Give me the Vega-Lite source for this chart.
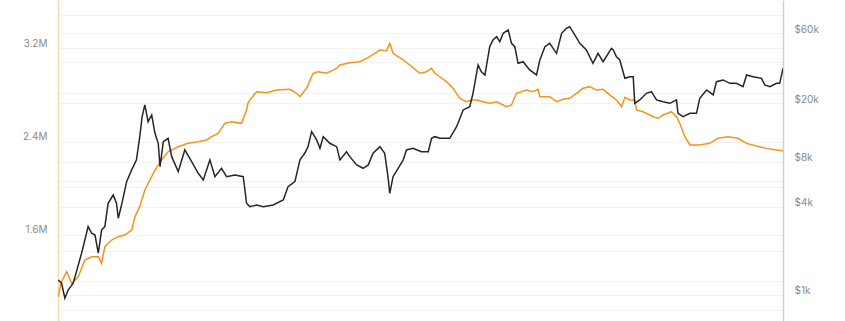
{
  "$schema": "https://vega.github.io/schema/vega-lite/v6.json",
  "width": 725,
  "height": 321,
  "autosize": "none",
  "padding": {"left": 58, "top": 0, "right": 62, "bottom": 0},
  "background": "white",
  "config": {"view": {"stroke": null}},
  "datasets": {
    "holders": [
      {"date": "2017-03-01", "value": 1025000},
      {"date": "2017-03-13", "value": 1154000},
      {"date": "2017-03-30", "value": 1239000},
      {"date": "2017-04-16", "value": 1140000},
      {"date": "2017-05-08", "value": 1197000},
      {"date": "2017-05-30", "value": 1340000},
      {"date": "2017-06-22", "value": 1368000},
      {"date": "2017-07-14", "value": 1368000},
      {"date": "2017-07-25", "value": 1311000},
      {"date": "2017-08-05", "value": 1454000},
      {"date": "2017-08-28", "value": 1511000},
      {"date": "2017-09-19", "value": 1540000},
      {"date": "2017-10-11", "value": 1554000},
      {"date": "2017-11-03", "value": 1597000},
      {"date": "2017-11-14", "value": 1711000},
      {"date": "2017-11-30", "value": 1797000},
      {"date": "2017-12-17", "value": 1940000},
      {"date": "2018-01-03", "value": 2026000},
      {"date": "2018-01-20", "value": 2111000},
      {"date": "2018-02-11", "value": 2197000},
      {"date": "2018-03-05", "value": 2268000},
      {"date": "2018-04-08", "value": 2311000},
      {"date": "2018-05-11", "value": 2340000},
      {"date": "2018-06-14", "value": 2354000},
      {"date": "2018-07-12", "value": 2369000},
      {"date": "2018-07-29", "value": 2397000},
      {"date": "2018-08-20", "value": 2426000},
      {"date": "2018-09-11", "value": 2512000},
      {"date": "2018-10-04", "value": 2526000},
      {"date": "2018-11-06", "value": 2512000},
      {"date": "2018-11-23", "value": 2626000},
      {"date": "2018-11-28", "value": 2688000},
      {"date": "2018-12-04", "value": 2712000},
      {"date": "2018-12-27", "value": 2783000},
      {"date": "2019-01-29", "value": 2774000},
      {"date": "2019-03-04", "value": 2797000},
      {"date": "2019-04-17", "value": 2803000},
      {"date": "2019-05-10", "value": 2769000},
      {"date": "2019-05-21", "value": 2740000},
      {"date": "2019-06-12", "value": 2812000},
      {"date": "2019-07-04", "value": 2941000},
      {"date": "2019-07-21", "value": 2954000},
      {"date": "2019-08-18", "value": 2941000},
      {"date": "2019-09-21", "value": 2983000},
      {"date": "2019-10-02", "value": 3012000},
      {"date": "2019-11-04", "value": 3031000},
      {"date": "2019-12-08", "value": 3040000},
      {"date": "2020-01-10", "value": 3083000},
      {"date": "2020-02-13", "value": 3140000},
      {"date": "2020-03-06", "value": 3134000},
      {"date": "2020-03-17", "value": 3198000},
      {"date": "2020-03-28", "value": 3112000},
      {"date": "2020-05-01", "value": 3055000},
      {"date": "2020-05-23", "value": 3012000},
      {"date": "2020-06-26", "value": 2941000},
      {"date": "2020-07-18", "value": 2954000},
      {"date": "2020-08-04", "value": 2983000},
      {"date": "2020-08-15", "value": 2941000},
      {"date": "2020-09-01", "value": 2911000},
      {"date": "2020-09-23", "value": 2869000},
      {"date": "2020-10-15", "value": 2812000},
      {"date": "2020-11-07", "value": 2726000},
      {"date": "2020-11-29", "value": 2697000},
      {"date": "2020-12-16", "value": 2712000},
      {"date": "2021-01-02", "value": 2712000},
      {"date": "2021-01-24", "value": 2697000},
      {"date": "2021-02-15", "value": 2683000},
      {"date": "2021-03-10", "value": 2697000},
      {"date": "2021-04-12", "value": 2654000},
      {"date": "2021-04-29", "value": 2669000},
      {"date": "2021-05-16", "value": 2769000},
      {"date": "2021-06-18", "value": 2797000},
      {"date": "2021-07-10", "value": 2783000},
      {"date": "2021-07-27", "value": 2803000},
      {"date": "2021-08-02", "value": 2740000},
      {"date": "2021-09-04", "value": 2740000},
      {"date": "2021-09-27", "value": 2697000},
      {"date": "2021-10-19", "value": 2718000},
      {"date": "2021-11-10", "value": 2726000},
      {"date": "2021-12-03", "value": 2769000},
      {"date": "2021-12-25", "value": 2812000},
      {"date": "2022-01-16", "value": 2826000},
      {"date": "2022-02-08", "value": 2797000},
      {"date": "2022-03-02", "value": 2803000},
      {"date": "2022-03-25", "value": 2754000},
      {"date": "2022-04-16", "value": 2712000},
      {"date": "2022-05-03", "value": 2654000},
      {"date": "2022-05-14", "value": 2735000},
      {"date": "2022-05-31", "value": 2712000},
      {"date": "2022-06-16", "value": 2712000},
      {"date": "2022-06-22", "value": 2626000},
      {"date": "2022-07-14", "value": 2611000},
      {"date": "2022-08-17", "value": 2568000},
      {"date": "2022-09-03", "value": 2555000},
      {"date": "2022-09-19", "value": 2583000},
      {"date": "2022-10-17", "value": 2611000},
      {"date": "2022-11-03", "value": 2568000},
      {"date": "2022-11-14", "value": 2512000},
      {"date": "2022-12-01", "value": 2397000},
      {"date": "2022-12-18", "value": 2326000},
      {"date": "2023-01-20", "value": 2326000},
      {"date": "2023-02-22", "value": 2340000},
      {"date": "2023-03-22", "value": 2383000},
      {"date": "2023-04-25", "value": 2397000},
      {"date": "2023-05-28", "value": 2383000},
      {"date": "2023-06-26", "value": 2340000},
      {"date": "2023-07-29", "value": 2317000},
      {"date": "2023-08-31", "value": 2297000},
      {"date": "2023-10-04", "value": 2283000},
      {"date": "2023-10-26", "value": 2277000}
    ],
    "price": [
      {"date": "2017-03-02", "price": 1180},
      {"date": "2017-03-13", "price": 1122},
      {"date": "2017-03-24", "price": 887},
      {"date": "2017-04-04", "price": 1009},
      {"date": "2017-04-21", "price": 1122},
      {"date": "2017-05-08", "price": 1493},
      {"date": "2017-05-19", "price": 1795},
      {"date": "2017-05-30", "price": 2208},
      {"date": "2017-06-10", "price": 2723},
      {"date": "2017-06-22", "price": 2455},
      {"date": "2017-07-03", "price": 2388},
      {"date": "2017-07-14", "price": 1795},
      {"date": "2017-07-25", "price": 2582},
      {"date": "2017-08-05", "price": 2723},
      {"date": "2017-08-16", "price": 3926},
      {"date": "2017-09-02", "price": 4467},
      {"date": "2017-09-13", "price": 3926},
      {"date": "2017-09-19", "price": 3105},
      {"date": "2017-09-30", "price": 3819},
      {"date": "2017-10-17", "price": 5508},
      {"date": "2017-11-03", "price": 6622},
      {"date": "2017-11-19", "price": 7745},
      {"date": "2017-11-30", "price": 11143},
      {"date": "2017-12-08", "price": 15241},
      {"date": "2017-12-17", "price": 18323},
      {"date": "2017-12-28", "price": 14093},
      {"date": "2018-01-09", "price": 15668},
      {"date": "2018-01-20", "price": 11749},
      {"date": "2018-01-31", "price": 10046},
      {"date": "2018-02-06", "price": 6966},
      {"date": "2018-02-17", "price": 10304},
      {"date": "2018-03-05", "price": 10864},
      {"date": "2018-03-17", "price": 8147},
      {"date": "2018-04-08", "price": 6442},
      {"date": "2018-04-30", "price": 9057},
      {"date": "2018-05-23", "price": 7534},
      {"date": "2018-06-14", "price": 6281},
      {"date": "2018-07-01", "price": 5662},
      {"date": "2018-07-23", "price": 7745},
      {"date": "2018-08-09", "price": 5957},
      {"date": "2018-08-31", "price": 6792},
      {"date": "2018-09-17", "price": 5957},
      {"date": "2018-10-15", "price": 6124},
      {"date": "2018-11-12", "price": 5957},
      {"date": "2018-11-23", "price": 3926},
      {"date": "2018-12-04", "price": 3724},
      {"date": "2018-12-27", "price": 3819},
      {"date": "2019-01-18", "price": 3724},
      {"date": "2019-02-20", "price": 3819},
      {"date": "2019-03-26", "price": 4130},
      {"date": "2019-04-11", "price": 5093},
      {"date": "2019-05-04", "price": 5508},
      {"date": "2019-05-21", "price": 7745},
      {"date": "2019-06-06", "price": 8590},
      {"date": "2019-06-17", "price": 9528},
      {"date": "2019-06-29", "price": 12050},
      {"date": "2019-07-16", "price": 10593},
      {"date": "2019-07-27", "price": 9290},
      {"date": "2019-08-07", "price": 11143},
      {"date": "2019-08-29", "price": 10046},
      {"date": "2019-09-21", "price": 9528},
      {"date": "2019-10-02", "price": 7745},
      {"date": "2019-10-24", "price": 8810},
      {"date": "2019-11-04", "price": 8147},
      {"date": "2019-11-27", "price": 7161},
      {"date": "2019-12-19", "price": 6792},
      {"date": "2020-01-05", "price": 7161},
      {"date": "2020-01-21", "price": 8590},
      {"date": "2020-02-13", "price": 9528},
      {"date": "2020-02-29", "price": 8590},
      {"date": "2020-03-11", "price": 5957},
      {"date": "2020-03-17", "price": 4592},
      {"date": "2020-03-28", "price": 5957},
      {"date": "2020-04-14", "price": 6792},
      {"date": "2020-05-01", "price": 7745},
      {"date": "2020-05-12", "price": 9057},
      {"date": "2020-06-03", "price": 9290},
      {"date": "2020-07-01", "price": 8810},
      {"date": "2020-07-24", "price": 8810},
      {"date": "2020-08-04", "price": 10864},
      {"date": "2020-08-15", "price": 11143},
      {"date": "2020-09-01", "price": 10864},
      {"date": "2020-10-04", "price": 10864},
      {"date": "2020-10-27", "price": 13032},
      {"date": "2020-11-18", "price": 16943},
      {"date": "2020-12-10", "price": 17824},
      {"date": "2020-12-21", "price": 21979},
      {"date": "2021-01-07", "price": 34277},
      {"date": "2021-01-18", "price": 30832},
      {"date": "2021-01-30", "price": 29309},
      {"date": "2021-02-15", "price": 45604},
      {"date": "2021-02-26", "price": 50699},
      {"date": "2021-03-10", "price": 53333},
      {"date": "2021-03-21", "price": 49317},
      {"date": "2021-04-01", "price": 56234},
      {"date": "2021-04-18", "price": 59293},
      {"date": "2021-04-29", "price": 48084},
      {"date": "2021-05-10", "price": 45604},
      {"date": "2021-05-21", "price": 35156},
      {"date": "2021-06-07", "price": 36058},
      {"date": "2021-06-29", "price": 31696},
      {"date": "2021-07-22", "price": 29309},
      {"date": "2021-08-02", "price": 37068},
      {"date": "2021-08-19", "price": 45604},
      {"date": "2021-09-04", "price": 48084},
      {"date": "2021-09-27", "price": 41115},
      {"date": "2021-10-14", "price": 56234},
      {"date": "2021-10-30", "price": 60814},
      {"date": "2021-11-10", "price": 62373},
      {"date": "2021-11-27", "price": 54828},
      {"date": "2021-12-14", "price": 48084},
      {"date": "2022-01-05", "price": 43351},
      {"date": "2022-01-27", "price": 35156},
      {"date": "2022-02-13", "price": 41115},
      {"date": "2022-03-02", "price": 36058},
      {"date": "2022-03-30", "price": 44463},
      {"date": "2022-04-05", "price": 43351},
      {"date": "2022-04-16", "price": 38994},
      {"date": "2022-04-27", "price": 37068},
      {"date": "2022-05-14", "price": 27797},
      {"date": "2022-05-31", "price": 28510},
      {"date": "2022-06-11", "price": 28510},
      {"date": "2022-06-16", "price": 18793},
      {"date": "2022-07-03", "price": 19815},
      {"date": "2022-07-25", "price": 21979},
      {"date": "2022-08-11", "price": 22542},
      {"date": "2022-08-28", "price": 19815},
      {"date": "2022-09-19", "price": 19275},
      {"date": "2022-10-12", "price": 18793},
      {"date": "2022-11-03", "price": 19815},
      {"date": "2022-11-08", "price": 16069},
      {"date": "2022-11-25", "price": 15241},
      {"date": "2022-12-18", "price": 16069},
      {"date": "2023-01-09", "price": 16069},
      {"date": "2023-01-20", "price": 20324},
      {"date": "2023-02-12", "price": 23174},
      {"date": "2023-03-06", "price": 21429},
      {"date": "2023-03-17", "price": 26363},
      {"date": "2023-04-08", "price": 27102},
      {"date": "2023-05-01", "price": 25704},
      {"date": "2023-05-23", "price": 25704},
      {"date": "2023-06-14", "price": 24378},
      {"date": "2023-06-26", "price": 29309},
      {"date": "2023-07-18", "price": 28510},
      {"date": "2023-08-15", "price": 27797},
      {"date": "2023-08-26", "price": 25061},
      {"date": "2023-09-12", "price": 24378},
      {"date": "2023-10-04", "price": 25704},
      {"date": "2023-10-15", "price": 25704},
      {"date": "2023-10-26", "price": 32509}
    ]
  },
  "layer": [
    {
      "data": {"name": "holders"},
      "mark": {"type": "line", "color": "#f7931a", "strokeWidth": 1.5, "clip": true},
      "encoding": {
        "x": {
          "field": "date",
          "type": "temporal",
          "axis": null,
          "scale": {"type": "utc", "domain": ["2017-03-01", "2023-10-26"], "nice": false}
        },
        "y": {
          "field": "value",
          "type": "quantitative",
          "scale": {"domain": [817000, 3569000], "nice": false, "zero": false},
          "axis": {
            "orient": "left",
            "values": [911000, 1040000, 1160000, 1417000, 1554000, 1600000, 1794000, 1966000, 2017000, 2180000, 2351000, 2400000, 2686000, 2772000, 3037000, 3157000, 3200000, 3286000, 3440000],
            "labelExpr": "indexof([1600000, 2400000, 3200000], datum.value) >= 0 ? format(datum.value, '~s') : ''",
            "title": null,
            "ticks": false,
            "labelPadding": 11,
            "labelColor": "#8a8a8a",
            "labelFontSize": 10,
            "labelFont": "Inter",
            "domainColor": "#fcd9ad",
            "domainWidth": 1.5,
            "grid": true,
            "gridColor": "#f2f2f2",
            "gridWidth": 1,
            "gridOpacity": {"condition": {"test": "indexof([1600000, 2400000, 3200000], datum.value) >= 0", "value": 0}, "value": 1}
          }
        }
      }
    },
    {
      "data": {"name": "price"},
      "mark": {"type": "line", "color": "#262626", "strokeWidth": 1.5, "clip": true},
      "encoding": {
        "x": {
          "field": "date",
          "type": "temporal",
          "axis": null,
          "scale": {"type": "utc", "domain": ["2017-03-01", "2023-10-26"], "nice": false}
        },
        "y": {
          "field": "price",
          "type": "quantitative",
          "scale": {"type": "log", "domain": [621, 94800], "nice": false},
          "axis": {
            "orient": "right",
            "values": [1000, 4000, 8000, 20000, 60000],
            "format": "$~s",
            "title": null,
            "ticks": false,
            "labelPadding": 11,
            "labelColor": "#8a8a8a",
            "labelFontSize": 10,
            "labelFont": "Inter",
            "domainColor": "#cfcfcf",
            "domainWidth": 1.5,
            "grid": false
          }
        }
      }
    }
  ],
  "resolve": {"scale": {"y": "independent"}}
}
